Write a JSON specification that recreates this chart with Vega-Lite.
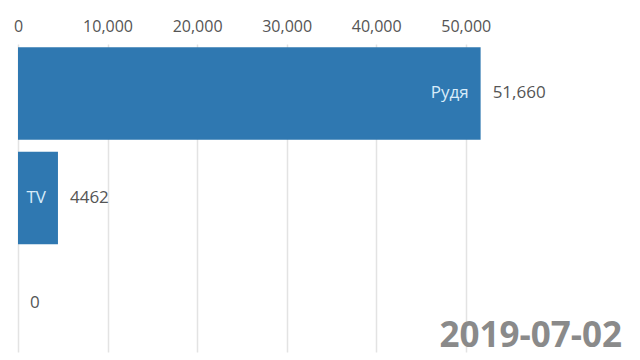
{
  "$schema": "https://vega.github.io/schema/vega-lite/v6.json",
  "width": 600,
  "height": 308,
  "autosize": {"type": "none"},
  "padding": {"left": 18, "top": 44, "right": 22, "bottom": 8},
  "background": "white",
  "config": {"view": {"stroke": null}, "font": "Open Sans"},
  "data": {"values": [
    {"name": "Рудя", "value": 51660, "label": "51,660", "rank": 1},
    {"name": "TV", "value": 4462, "label": "4462", "rank": 2},
    {"name": "", "value": 0, "label": "0", "rank": 3}
  ]},
  "encoding": {
    "y": {"field": "rank", "type": "ordinal", "axis": null,
      "scale": {"paddingInner": 0.114, "paddingOuter": 0.03}}
  },
  "layer": [
    {
      "mark": {"type": "bar", "color": "#2f78b1"},
      "encoding": {
        "x": {"field": "value", "type": "quantitative",
          "scale": {"domain": [0, 67000], "nice": false},
          "axis": {"orient": "top", "values": [0, 10000, 20000, 30000, 40000, 50000],
            "format": ",.0f", "title": null, "domain": false, "ticks": false,
            "labelFontSize": 16, "labelColor": "#555", "labelPadding": 10,
            "gridColor": "#e3e3e3", "gridWidth": 1.5, "labelFlush": false}}
      }
    },
    {
      "transform": [{"filter": "datum.value > 0"}],
      "mark": {"type": "text", "align": "right", "baseline": "middle", "dx": -12, "fontSize": 17, "color": "#d8ecfa"},
      "encoding": {
        "x": {"field": "value", "type": "quantitative"},
        "text": {"field": "name"}
      }
    },
    {
      "mark": {"type": "text", "align": "left", "baseline": "middle", "dx": 12, "fontSize": 17, "color": "#555"},
      "encoding": {
        "x": {"field": "value", "type": "quantitative"},
        "text": {"field": "label"}
      }
    },
    {
      "data": {"values": [{"date": "2019-07-02", "x": 67000, "rank": 3}]},
      "mark": {"type": "text", "align": "right", "baseline": "alphabetic", "dx": 4, "dy": 44, "fontSize": 35, "fontWeight": "bold", "color": "#8a8a8a"},
      "encoding": {
        "x": {"field": "x", "type": "quantitative"},
        "y": {"field": "rank", "type": "ordinal"},
        "text": {"field": "date"}
      }
    }
  ]
}
